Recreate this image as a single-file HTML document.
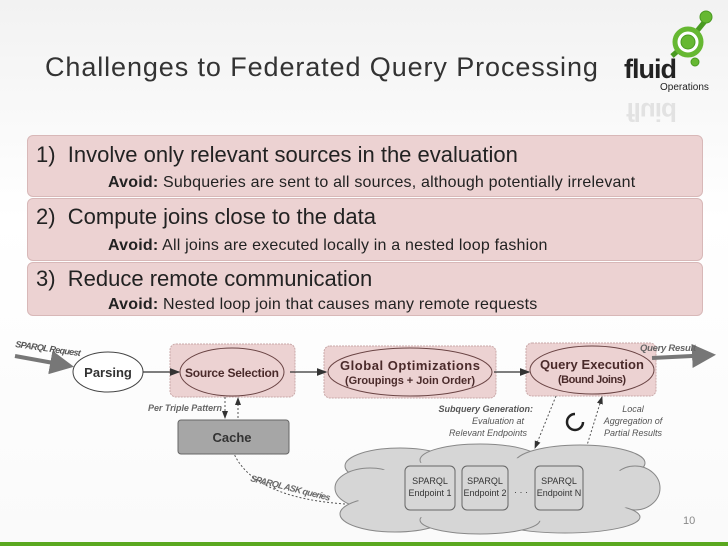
<!DOCTYPE html>
<html><head><meta charset="utf-8"><style>
body{margin:0;width:728px;height:546px;overflow:hidden;background:linear-gradient(#f2f2f2,#ffffff 40%,#fafafa);font-family:"Liberation Sans",sans-serif;position:relative}
.t{position:absolute;left:45px;top:52px;font-size:27px;color:#333;letter-spacing:0.9px;white-space:nowrap}
.b{position:absolute;left:27px;width:676px;background:#ecd2d2;border:1px solid #d8b8b8;border-radius:6px;box-sizing:border-box}
.h{position:absolute;left:8px;font-size:22px;color:#222;white-space:nowrap}
.a{position:absolute;left:80px;font-size:16px;color:#222;white-space:nowrap;letter-spacing:0.2px}
</style></head><body>
<div class="t">Challenges to Federated Query Processing</div>
<div style="position:absolute;left:624px;top:54px;font:bold 27px 'Liberation Sans',sans-serif;color:#222;letter-spacing:-1px">fluid</div>
<div style="position:absolute;left:660px;top:82px;font:10px 'Liberation Sans',sans-serif;color:#222">Operations</div>
<div style="position:absolute;left:626px;top:96px;font:bold 26px 'Liberation Sans',sans-serif;color:#e2e2e2;letter-spacing:-1px;transform:scaleY(-1)">fluid</div>
<svg style="position:absolute;left:0;top:0" width="728" height="130"><g fill="#66b832" stroke="#4a9a22"><line x1="688" y1="42" x2="706" y2="20" stroke-width="5"/><line x1="672" y1="56" x2="688" y2="42" stroke-width="5"/><circle cx="688" cy="42" r="13" fill="#fff" stroke="#66b832" stroke-width="5"/><circle cx="688" cy="42" r="7"/><circle cx="706" cy="17" r="6"/><circle cx="695" cy="62" r="4"/></g></svg>
<div class="b" style="top:135px;height:62px"><div class="h" style="top:6px">1)&nbsp; Involve only relevant sources in the evaluation</div><div class="a" style="top:38px"><b>Avoid:</b> Subqueries are sent to all sources, although potentially irrelevant</div></div>
<div class="b" style="top:198px;height:63px"><div class="h" style="top:5px">2)&nbsp; Compute joins close to the data</div><div class="a" style="top:38px"><b>Avoid:</b> All joins are executed locally in a nested loop fashion</div></div>
<div class="b" style="top:262px;height:54px"><div class="h" style="top:3px">3)&nbsp; Reduce remote communication</div><div class="a" style="top:33px"><b>Avoid:</b> Nested loop join that causes many remote requests</div></div>
<svg style="position:absolute;left:0;top:320px" width="728" height="226" font-family="Liberation Sans,sans-serif">
<defs><marker id="m" markerWidth="8" markerHeight="8" refX="7" refY="4" orient="auto"><path d="M0,1L8,4L0,7z" fill="#333"/></marker><marker id="g" markerWidth="6" markerHeight="6" refX="5" refY="3" orient="auto"><path d="M0,0L6,3L0,6z" fill="#777"/></marker></defs>
<g fill="#ecd2d2" stroke="#c9a8a8" stroke-dasharray="2,1"><rect x="170" y="24" width="125" height="53" rx="6"/><rect x="324" y="26" width="172" height="52" rx="6"/><rect x="526" y="23" width="130" height="53" rx="6"/></g>
<path d="M15,36 L70,46" stroke="#777" stroke-width="4" marker-end="url(#g)"/>
<text x="15" y="27" font-size="9" font-style="italic" font-weight="bold" fill="#555" transform="rotate(8 15 27)" textLength="66">SPARQL Request</text>
<ellipse cx="108" cy="52" rx="35" ry="20" fill="#fff" stroke="#444"/>
<text x="108" y="57" font-size="13" font-weight="bold" text-anchor="middle" fill="#333">Parsing</text>
<ellipse cx="232" cy="52" rx="52" ry="24" fill="#ecd2d2" stroke="#6a4444"/>
<text x="232" y="57" font-size="12" font-weight="bold" text-anchor="middle" fill="#4a2a2a" textLength="94">Source Selection</text>
<ellipse cx="410" cy="52" rx="82" ry="24" fill="#ecd2d2" stroke="#6a4444"/>
<text x="410" y="50" font-size="13" font-weight="bold" text-anchor="middle" fill="#4a2a2a" textLength="140">Global Optimizations</text>
<text x="410" y="64" font-size="11" font-weight="bold" text-anchor="middle" fill="#4a2a2a" textLength="130">(Groupings + Join Order)</text>
<ellipse cx="592" cy="50" rx="62" ry="24" fill="#ecd2d2" stroke="#6a4444"/>
<text x="592" y="49" font-size="13" font-weight="bold" text-anchor="middle" fill="#4a2a2a" textLength="104">Query Execution</text>
<text x="592" y="63" font-size="11" font-weight="bold" text-anchor="middle" fill="#4a2a2a" textLength="68">(Bound Joins)</text>
<g stroke="#333" stroke-width="1.3" marker-end="url(#m)"><line x1="143" y1="52" x2="179" y2="52"/><line x1="290" y1="52" x2="326" y2="52"/><line x1="494" y1="52" x2="529" y2="52"/></g>
<path d="M652,38 L712,35" stroke="#777" stroke-width="4" marker-end="url(#g)"/>
<text x="640" y="31" font-size="9.5" font-style="italic" font-weight="bold" fill="#666" textLength="56">Query Result</text>
<g stroke="#555" stroke-dasharray="2,2" fill="none" marker-end="url(#m)"><line x1="225" y1="77" x2="225" y2="98"/><line x1="238" y1="98" x2="238" y2="78"/><line x1="556" y1="76" x2="535" y2="128"/><line x1="584" y1="135" x2="602" y2="77"/><path d="M345,184 C290,180 240,165 230,122"/></g>
<text x="148" y="91" font-size="9" font-style="italic" font-weight="bold" fill="#666" textLength="74">Per Triple Pattern</text>
<rect x="178" y="100" width="111" height="34" rx="3" fill="#a6a6a6" stroke="#666"/>
<text x="232" y="122" font-size="13" font-weight="bold" text-anchor="middle" fill="#333">Cache</text>
<text x="250" y="161" font-size="9" font-style="italic" font-weight="bold" fill="#666" transform="rotate(14 250 161)" textLength="82">SPARQL ASK queries</text>
<g font-size="9" font-style="italic" fill="#555" text-anchor="end"><text x="533" y="92" font-weight="bold">Subquery Generation:</text><text x="524" y="104">Evaluation at</text><text x="527" y="116">Relevant Endpoints</text></g>
<g font-size="9" font-style="italic" fill="#555" text-anchor="middle"><text x="633" y="92">Local</text><text x="633" y="104">Aggregation of</text><text x="633" y="116">Partial Results</text></g>
<path d="M575,94 a8,8 0 1,0 8,8" fill="none" stroke="#222" stroke-width="2.5"/>
<g fill="#d6d6d6" stroke="#888"><ellipse cx="400" cy="146" rx="55" ry="18"/><ellipse cx="480" cy="140" rx="60" ry="16"/><ellipse cx="580" cy="143" rx="65" ry="18"/><ellipse cx="370" cy="168" rx="35" ry="20"/><ellipse cx="635" cy="168" rx="25" ry="22"/><ellipse cx="395" cy="194" rx="55" ry="18"/><ellipse cx="565" cy="197" rx="75" ry="16"/><ellipse cx="480" cy="200" rx="60" ry="14"/></g>
<ellipse cx="500" cy="170" rx="150" ry="32" fill="#d6d6d6"/>
<g fill="#d6d6d6" stroke="#666"><rect x="405" y="146" width="50" height="44" rx="5"/><rect x="462" y="146" width="46" height="44" rx="5"/><rect x="535" y="146" width="48" height="44" rx="5"/></g>
<g font-size="9" fill="#333" text-anchor="middle"><text x="430" y="164">SPARQL</text><text x="430" y="176">Endpoint 1</text><text x="485" y="164">SPARQL</text><text x="485" y="176">Endpoint 2</text><text x="559" y="164">SPARQL</text><text x="559" y="176">Endpoint N</text><text x="521" y="175">· · ·</text></g>
<text x="683" y="204" font-size="11" fill="#888">10</text>
</svg>
<div style="position:absolute;left:0;top:542px;width:728px;height:4px;background:#5aa81f"></div>
</body></html>
